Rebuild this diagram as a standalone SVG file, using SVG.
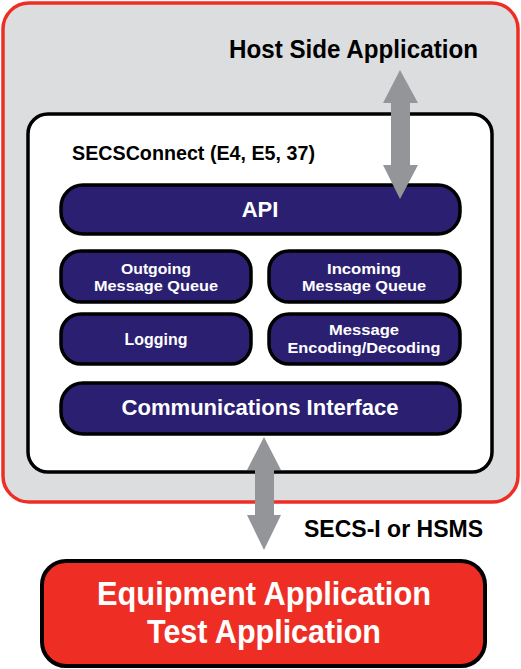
<svg xmlns="http://www.w3.org/2000/svg" width="521" height="669" viewBox="0 0 521 669">
<style>
.t{font-family:"Liberation Sans",Arial,sans-serif;font-weight:bold;}
.blk{fill:#000;}
.wht{fill:#fff;}
.mod{fill:#2b1f72;stroke:#000;stroke-width:3.5;}
.arr{fill:#939598;}
</style>
<rect width="521" height="669" fill="#fff"/>
<g id="host">
<rect x="3" y="3" width="515" height="499" rx="26" fill="#dcdddf" stroke="#ee2e24" stroke-width="3.5"/>
<text class="t blk" x="478" y="58" font-size="25" text-anchor="end" textLength="249" lengthAdjust="spacingAndGlyphs">Host Side Application</text>
</g>
<g id="secsconnect">
<rect x="28" y="114" width="464" height="358" rx="20" fill="#fff" stroke="#000" stroke-width="3.5"/>
<text class="t blk" x="72" y="160" font-size="20" textLength="243" lengthAdjust="spacingAndGlyphs">SECSConnect (E4, E5, 37)</text>
</g>
<g id="api">
<rect class="mod" x="61" y="185" width="399" height="49" rx="22"/>
<text class="t wht" x="260" y="217" font-size="22" text-anchor="middle">API</text>
</g>
<g id="outgoing">
<rect class="mod" x="61" y="251" width="190" height="51" rx="20"/>
<text class="t wht" x="156" y="274" font-size="15" text-anchor="middle" textLength="70" lengthAdjust="spacingAndGlyphs">Outgoing</text>
<text class="t wht" x="156" y="291" font-size="15" text-anchor="middle" textLength="124" lengthAdjust="spacingAndGlyphs">Message Queue</text>
</g>
<g id="incoming">
<rect class="mod" x="269" y="251" width="191" height="51" rx="20"/>
<text class="t wht" x="364" y="274" font-size="15" text-anchor="middle" textLength="74" lengthAdjust="spacingAndGlyphs">Incoming</text>
<text class="t wht" x="364" y="291" font-size="15" text-anchor="middle" textLength="124" lengthAdjust="spacingAndGlyphs">Message Queue</text>
</g>
<g id="logging">
<rect class="mod" x="61" y="314" width="190" height="50" rx="20"/>
<text class="t wht" x="156" y="345" font-size="16" text-anchor="middle" textLength="63" lengthAdjust="spacingAndGlyphs">Logging</text>
</g>
<g id="encoding">
<rect class="mod" x="269" y="314" width="191" height="50" rx="20"/>
<text class="t wht" x="364" y="335" font-size="15" text-anchor="middle" textLength="70" lengthAdjust="spacingAndGlyphs">Message</text>
<text class="t wht" x="364" y="353" font-size="15" text-anchor="middle" textLength="153" lengthAdjust="spacingAndGlyphs">Encoding/Decoding</text>
</g>
<g id="comm">
<rect class="mod" x="61" y="383" width="399" height="51" rx="22"/>
<text class="t wht" x="260" y="415" font-size="22" text-anchor="middle" textLength="277" lengthAdjust="spacingAndGlyphs">Communications Interface</text>
</g>
<g id="connectors">
<polygon class="arr" points="400,70 418,103 410,103 410,165 418,165 400,199 383,165 391,165 391,103 383,103"/>
<polygon class="arr" points="264,437 281,470 274,470 274,515 281,515 264,550 247,515 255,515 255,470 247,470"/>
<text class="t blk" x="304" y="537" font-size="23" textLength="179" lengthAdjust="spacingAndGlyphs">SECS-I or HSMS</text>
</g>
<g id="equipment">
<rect x="42" y="561" width="443" height="105" rx="24" fill="#ee2e24" stroke="#000" stroke-width="4"/>
<text class="t wht" x="264" y="605" font-size="33" text-anchor="middle" textLength="334" lengthAdjust="spacingAndGlyphs">Equipment Application</text>
<text class="t wht" x="264" y="643" font-size="33" text-anchor="middle" textLength="234" lengthAdjust="spacingAndGlyphs">Test Application</text>
</g>
</svg>
